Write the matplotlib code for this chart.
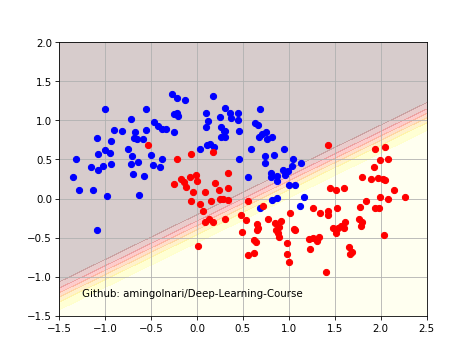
import numpy as np
import matplotlib
matplotlib.use("Agg")
import matplotlib.pyplot as plt

# class 0 (blue) points
blue_x = [-1.355, -1.32, -1.28, -1.15, -1.13, -1.09, -1.08, -1.08, -1.09, -1.02,
          -1.0, -1.0, -0.98, -0.95, -0.94, -0.94, -0.90, -0.82, -0.75, -0.72,
          -0.72, -0.71, -0.70, -0.69, -0.67, -0.64, -0.65, -0.63, -0.59, -0.58,
          -0.56, -0.56, -0.50, -0.48, -0.47, -0.42, -0.38, -0.40, -0.38, -0.34,
          -0.27, -0.255, -0.25, -0.215, -0.22, -0.21, -0.13, 0.03, 0.10, 0.12,
          0.10, 0.11, 0.14, 0.18, 0.17, 0.255, 0.26, 0.30, 0.29, 0.265,
          0.31, 0.31, 0.355, 0.37, 0.45, 0.45, 0.46, 0.455, 0.56, 0.585,
          0.635, 0.66, 0.69, 0.675, 0.71, 0.75, 0.76, 0.74, 0.745, 0.815,
          0.805, 0.84, 0.805, 0.87, 0.875, 0.94, 0.945, 0.96, 0.99, 1.03,
          1.05, 1.0, 1.065, 1.13, 1.165, 1.125, 0.685, 0.82, 0.875]
blue_y = [0.28, 0.51, 0.11, 0.40, 0.11, 0.78, 0.57, 0.37, -0.40, 0.42,
          1.15, 0.62, 0.03, 0.58, 0.44, 0.73, 0.88, 0.87, 0.64, 1.02,
          0.44, 0.54, 0.31, 0.77, 0.85, 0.47, 0.76, 0.04, 0.76, 0.29,
          1.15, 0.88, 0.56, 0.43, 0.98, 0.93, 0.51, 0.40, 0.89, 0.89,
          1.34, 0.85, 1.08, 1.28, 1.09, 1.05, 1.26, 0.63, 1.09, 0.99,
          0.91, 0.68, 0.70, 0.66, 1.31, 1.04, 0.91, 1.16, 0.87, 0.79,
          0.79, 0.87, 1.09, 1.03, 1.09, 1.0, 0.86, 0.50, 0.27, 0.64,
          0.96, 0.94, 1.15, 0.79, 0.82, 0.85, 0.76, 0.54, 0.46, 0.79,
          0.33, 0.56, 0.27, 0.29, 0.23, 0.36, 0.63, 0.30, 0.35, 0.42,
          0.51, 0.17, 0.17, 0.46, 0.02, -0.10, -0.12, -0.02, 0.01]

# class 1 (red) points
red_x = [-0.53, -0.22, -0.06, 0.17, -0.255, -0.17, -0.145, -0.125, -0.08, -0.015,
         0.0, -0.065, -0.045, 0.035, 0.065, 0.09, 0.09, 0.13, 0.17, 0.155,
         0.20, 0.235, 0.245, 0.28, 0.30, 0.335, 0.34, 0.34, 0.015, 0.48,
         0.53, 0.485, 0.56, 0.56, 0.62, 0.62, 0.64, 0.655, 0.65, 0.665,
         0.72, 0.775, 0.845, 0.865, 0.89, 0.88, 0.89, 0.92, 0.98, 0.975,
         1.0, 1.015, 1.06, 1.07, 1.265, 1.22, 1.26, 1.225, 1.31, 1.33,
         1.34, 1.40, 1.43, 1.43, 1.43, 1.45, 1.48, 1.51, 1.52, 1.515,
         1.53, 1.605, 1.61, 1.605, 1.565, 1.66, 1.665, 1.685, 1.78, 1.765,
         1.785, 1.795, 1.795, 1.835, 1.90, 1.93, 1.935, 1.94, 1.97, 1.985,
         1.99, 1.99, 2.02, 2.05, 2.05, 2.075, 2.08, 2.04, 2.14, 2.26]
red_y = [0.69, 0.50, 0.57, 0.60, 0.19, 0.25, 0.21, 0.15, 0.28, 0.30,
         0.22, -0.03, 0.09, -0.07, -0.16, 0.09, -0.30, -0.26, -0.30, -0.03,
         0.20, 0.11, 0.0, 0.0, -0.26, 0.14, 0.33, -0.02, -0.60, -0.21,
         -0.28, -0.43, -0.03, -0.72, -0.70, -0.53, -0.555, -0.32, -0.40, -0.37,
         -0.10, -0.26, -0.31, -0.40, -0.36, -0.44, -0.49, -0.29, -0.57, -0.71,
         -0.81, -0.18, -0.39, -0.40, -0.115, -0.52, -0.51, -0.65, -0.54, -0.49,
         -0.18, -0.94, 0.68, -0.16, -0.21, 0.13, -0.37, 0.11, -0.125, -0.445,
         -0.38, 0.14, -0.295, -0.37, -0.355, -0.625, -0.705, -0.68, -0.11, -0.255,
         -0.345, -0.305, 0.28, -0.03, 0.25, 0.40, 0.63, -0.125, 0.26, -0.12,
         0.49, 0.025, 0.25, 0.24, 0.66, 0.50, 0.0, -0.46, 0.11, 0.025]

# fitted linear model (logistic) weights for the decision surface
w1, w2, bias = 6.3, -11.0, -4.0

x_range = (-1.5, 2.5)
y_range = (-1.5, 2.0)

fig = plt.figure(figsize=(6.4, 4.8), dpi=74.0625)
ax = fig.add_subplot(111)

xx, yy = np.meshgrid(np.linspace(x_range[0], x_range[1], 400),
                     np.linspace(y_range[0], y_range[1], 400))
prob = 1.0 / (1.0 + np.exp(-(w1 * xx + w2 * yy + bias)))
ax.contourf(xx, yy, prob, cmap=plt.cm.hot, alpha=0.2)

ax.plot(blue_x, blue_y, 'bo')
ax.plot(red_x, red_y, 'ro')

ax.text(-1.25, -1.25, 'Github: amingolnari/Deep-Learning-Course')
ax.set_xlim(*x_range)
ax.set_ylim(*y_range)
ax.grid(True)

fig.savefig('out.png', dpi=74.0625)
